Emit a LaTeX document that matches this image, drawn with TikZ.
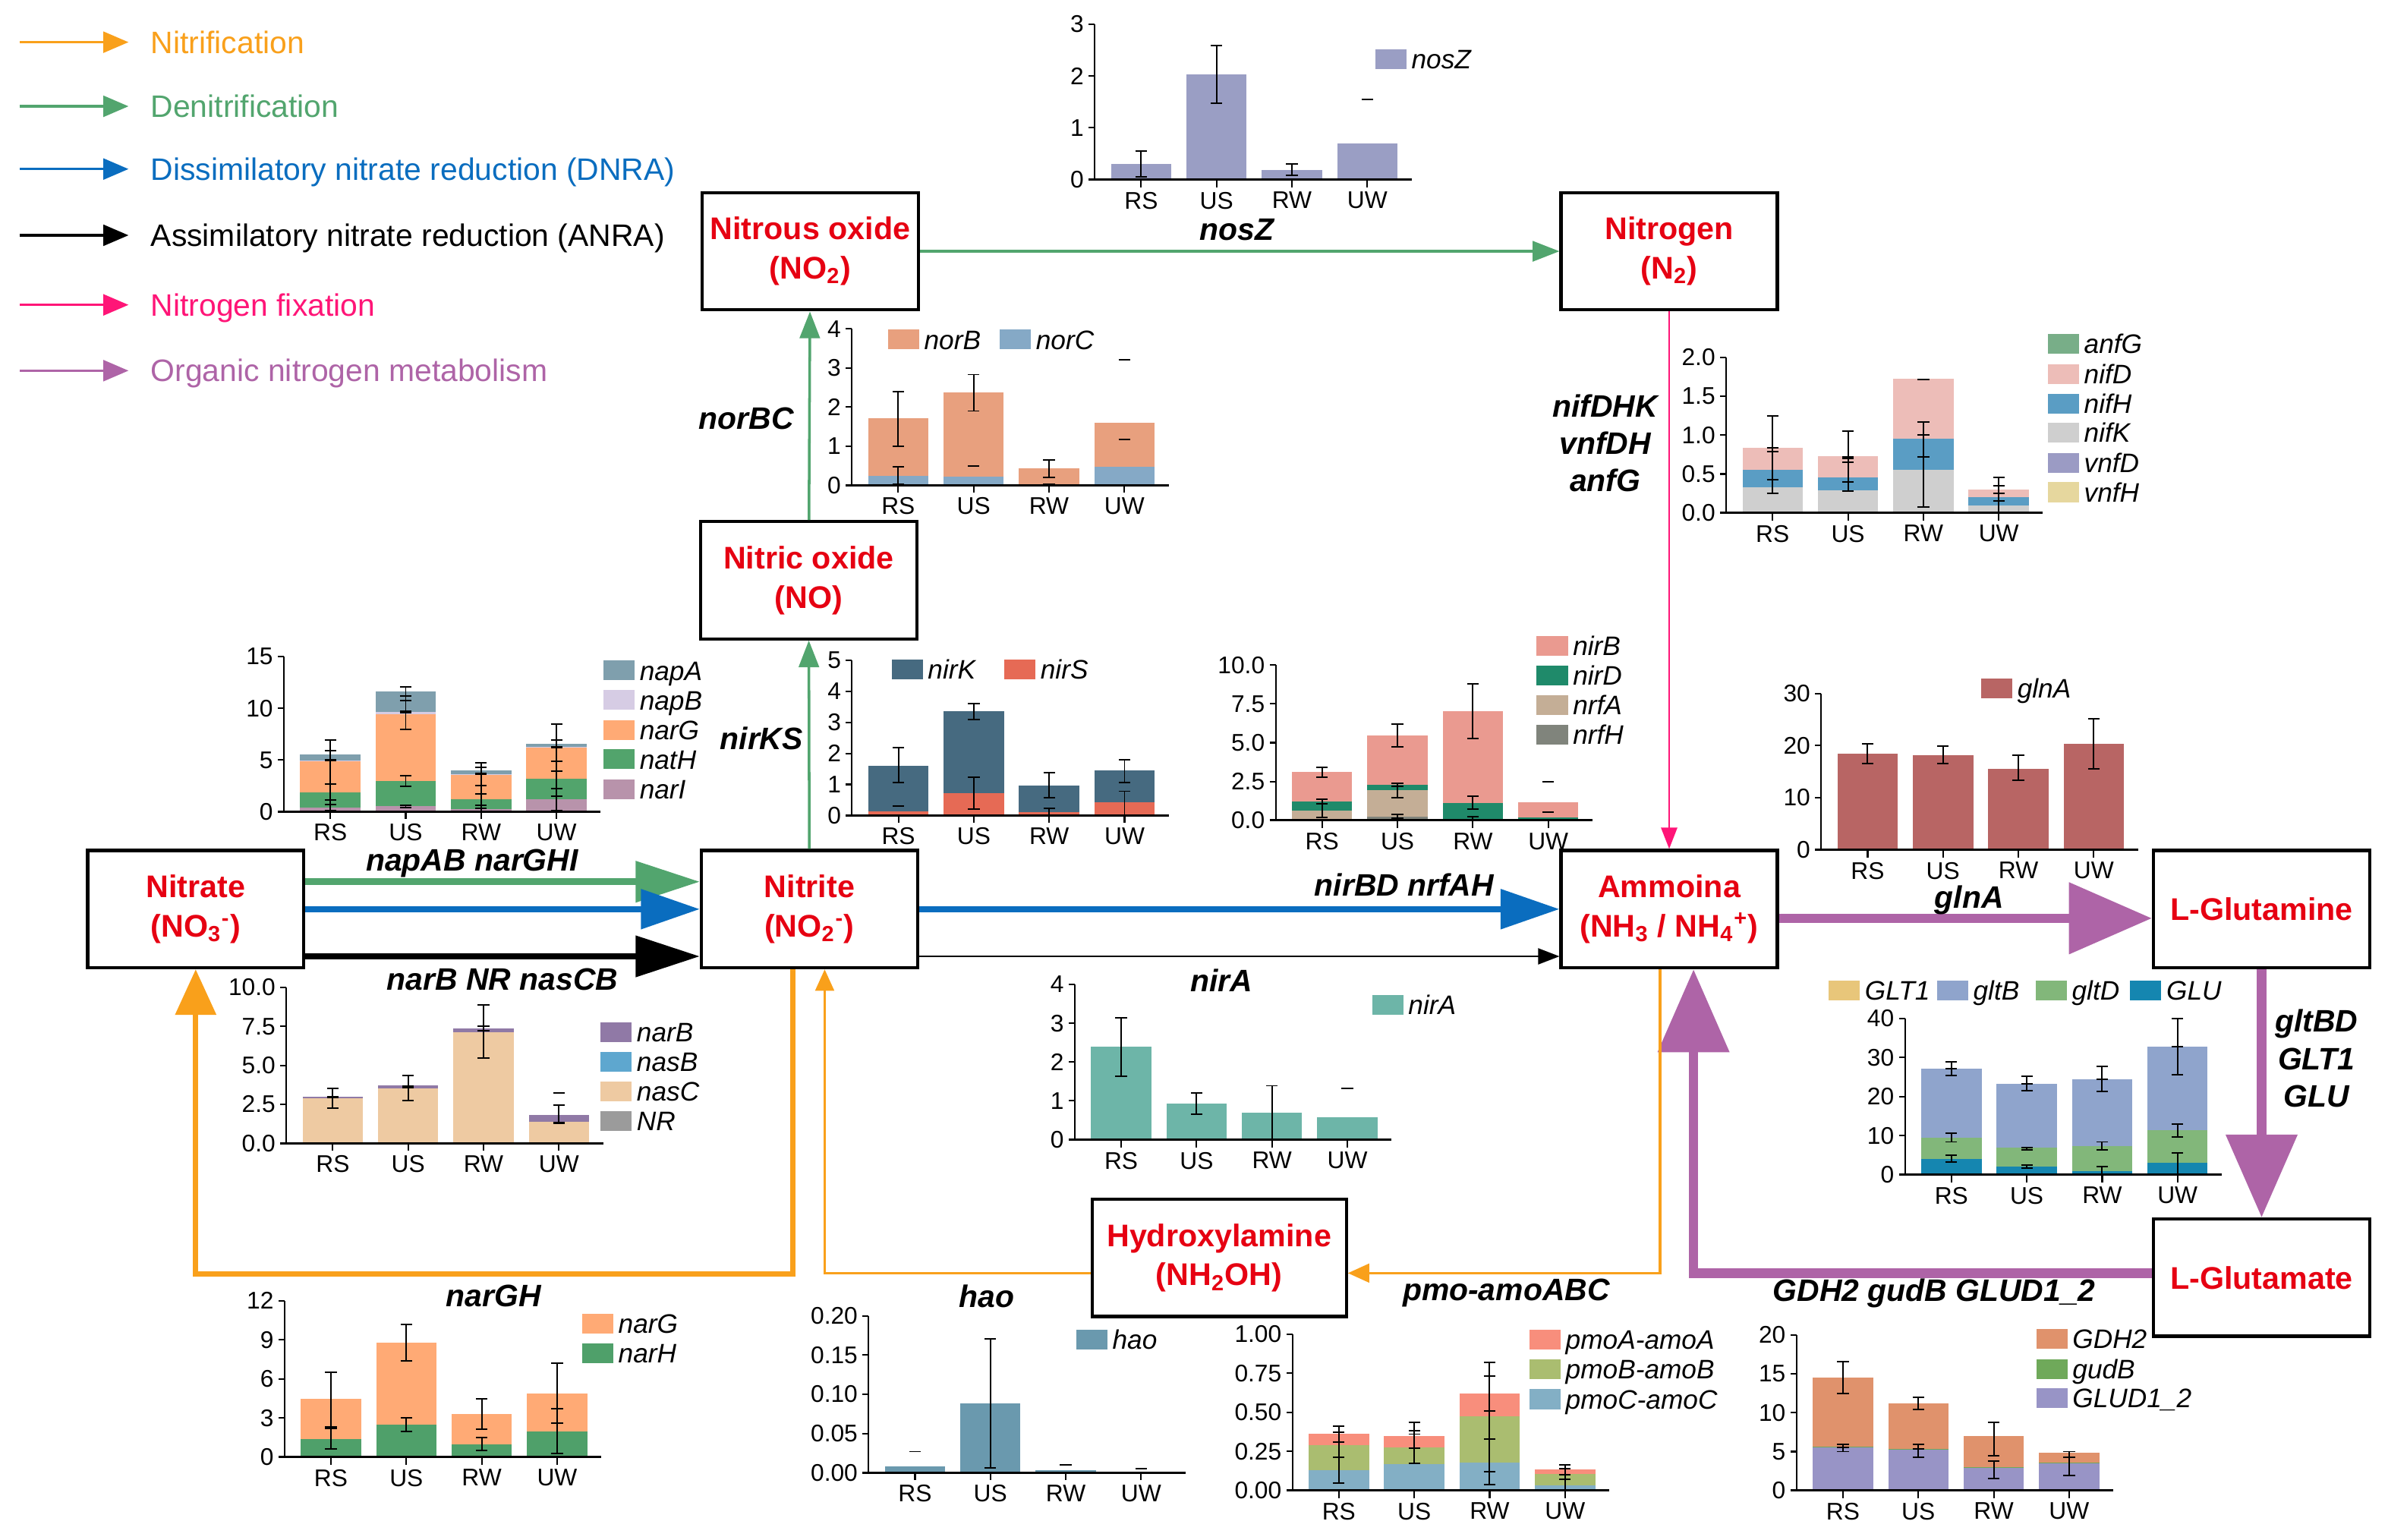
\documentclass[tikz,border=0pt]{standalone}
\usepackage{fontspec}
\setmainfont{Liberation Sans}
\usetikzlibrary{arrows.meta,calc}

% pathway colours
\definecolor{cnitr}{HTML}{F9A01B}
\definecolor{cden}{HTML}{52A56E}
\definecolor{cdnra}{HTML}{0A6DBF}
\definecolor{cfix}{HTML}{FF1577}
\definecolor{corg}{HTML}{AE64A7}
\definecolor{cred}{HTML}{E60012}
% gene colours
\definecolor{cnosz}{HTML}{9A9EC4}
\definecolor{cnorb}{HTML}{E8A07E}
\definecolor{cnorc}{HTML}{85A9C6}
\definecolor{canfg}{HTML}{78AE88}
\definecolor{cnifd}{HTML}{EDBDB8}
\definecolor{cnifh}{HTML}{5A9DC4}
\definecolor{cnifk}{HTML}{CFCFCF}
\definecolor{cvnfd}{HTML}{9B9BC4}
\definecolor{cvnfh}{HTML}{E6D79E}
\definecolor{cnapa}{HTML}{7F9FAD}
\definecolor{cnapb}{HTML}{D6CCE4}
\definecolor{cnarg}{HTML}{FFAA75}
\definecolor{cnath}{HTML}{52A46C}
\definecolor{cnari}{HTML}{B893AB}
\definecolor{cnirk}{HTML}{466A80}
\definecolor{cnirs}{HTML}{E66A55}
\definecolor{cnirb}{HTML}{EA9A90}
\definecolor{cnird}{HTML}{1F8A6A}
\definecolor{cnrfa}{HTML}{C4AE96}
\definecolor{cnrfh}{HTML}{80847C}
\definecolor{cglna}{HTML}{B86564}
\definecolor{cnarb}{HTML}{9079A6}
\definecolor{cnasb}{HTML}{5EA7CF}
\definecolor{cnasc}{HTML}{EECAA2}
\definecolor{cnr}{HTML}{9B9B9B}
\definecolor{cnira}{HTML}{6DB5A8}
\definecolor{cglt}{HTML}{E8C67A}
\definecolor{cgltb}{HTML}{8FA4CC}
\definecolor{cgltd}{HTML}{82B77A}
\definecolor{cglu}{HTML}{1586B0}
\definecolor{cnarh}{HTML}{4FA06A}
\definecolor{chao}{HTML}{6A99AE}
\definecolor{cpmoa}{HTML}{F88E7C}
\definecolor{cpmob}{HTML}{AABD70}
\definecolor{cpmoc}{HTML}{83AFC5}
\definecolor{cgdh}{HTML}{E0926C}
\definecolor{cgudb}{HTML}{6FA95A}
\definecolor{cglud}{HTML}{9894C6}

\newcommand\poolfont{\fontsize{11.7}{14.7}\selectfont\bfseries}
\newcommand\legfont{\fontsize{11.6}{13}\selectfont}
\newcommand\genefont{\fontsize{11.6}{14}\selectfont\bfseries\itshape}
\newcommand\tickfont{\fontsize{9}{10}\selectfont}
\newcommand\keyfont{\fontsize{10}{11}\selectfont\itshape}

\tikzstyle{pool} = [draw, line width=1.2pt, minimum width=2.84cm, minimum height=1.54cm, align=center, text=cred, font=\poolfont, inner sep=2pt]
\tikzstyle{legtext} = [anchor=west, inner sep=0pt, text height=8.3pt, text depth=0pt, font=\legfont]
\tikzstyle{gene} = [inner sep=0pt, align=center, font=\genefont]
\tikzstyle{ticklab} = [inner sep=1.5pt, font=\tickfont]
\tikzstyle{keylab} = [anchor=west, inner sep=0pt, text height=7.2pt, text depth=0pt, font=\keyfont]
\tikzstyle{yaxis} = [line width=0.6pt]
\tikzstyle{xaxis} = [line width=0.9pt]
\tikzstyle{errline} = [line width=0.55pt]
\tikzstyle{legarrow} = [line width=0.95pt, -{Triangle[length=9.4pt,width=7.8pt]}]
\tikzstyle{nitrthin} = [cnitr, line width=0.9pt, -{Triangle[length=8pt,width=7pt]}]
\tikzstyle{nitrthick} = [cnitr, line width=1.9pt, -{Triangle[length=17pt,width=15pt]}]
\tikzstyle{denthin} = [cden, line width=1pt, -{Triangle[length=10pt,width=7.5pt]}]
\tikzstyle{denthick} = [cden, line width=2.4pt, -{Triangle[length=24pt,width=15pt]}]
\tikzstyle{dnra} = [cdnra, line width=2.4pt, -{Triangle[length=22pt,width=14.5pt]}]
\tikzstyle{anrathick} = [black, line width=2.4pt, -{Triangle[length=24pt,width=15pt]}]
\tikzstyle{anrathin} = [black, line width=0.6pt, -{Triangle[length=8pt,width=6pt]}]
\tikzstyle{fix} = [cfix, line width=0.8pt, -{Triangle[length=8pt,width=6pt]}]
\tikzstyle{org} = [corg, line width=3.6pt, -{Triangle[length=31pt,width=26pt]}]

% bar charts: x in picture units from the y axis, heights in data units times \kk
\newcommand\barstack[2]{\gdef\prev{0}%
  \foreach \vt/\col in {#2}{\fill[fill=\col] ({30.5+(#1-1)*49.5-19.8},{-\prev*\kk}) rectangle ({30.5+(#1-1)*49.5+19.8},{-\vt*\kk}); \xdef\prev{\vt}}}
\newcommand\errcaps[2]{\foreach \e in {#2} \draw[errline] ({30.5+(#1-1)*49.5-3.8},{-\e*\kk}) -- ++(7.6,0);}
\newcommand\errbar[3]{\draw[errline] ({30.5+(#1-1)*49.5},{-(#2)*\kk}) -- ({30.5+(#1-1)*49.5},{-(#3)*\kk}); \errcaps{#1}{#2,#3}}
\newcommand\chartaxes[3]{%
  \draw[yaxis] (0,{-(#2)*\kk}) -- (0,0);
  \foreach \v/\l [count=\i] in {#3} \draw[yaxis] (0,{-\v*\kk}) -- (-4,{-\v*\kk}) node[ticklab,left] (#1-y\i) {\l};
  \draw[xaxis] (-4,0) -- (208,0);
  \foreach \cat [count=\i] in {RS,US,RW,UW} \draw[yaxis] ({30.5+(\i-1)*49.5},0) -- ++(0,5) node[ticklab,below] (#1-\cat) {\cat};}
\newcommand\legkey[5]{\fill[fill=#4] (#2,{#3-6.5}) rectangle ({#2+20.5},{#3+6.5}); \node[keylab] (#1) at ({#2+23.5},#3) {#5};}

\begin{document}
\begin{tikzpicture}[x=0.02cm,y=-0.02cm]
\useasboundingbox (0,0) rectangle (1568,1011);

% legend
\foreach \yy/\col/\txt [count=\i] in {27.7/cnitr/Nitrification, 69.8/cden/Denitrification, 111/cdnra/Dissimilatory nitrate reduction (DNRA), 154.5/black/Assimilatory nitrate reduction (ANRA), 200.2/cfix/Nitrogen fixation, 243.4/corg/Organic nitrogen metabolism} {
  \coordinate (ls\i) at (12.9,\yy);
  \node[legtext,text=\col] (leg\i) at (98.7,\yy) {\txt};
  \draw[legarrow,color=\col] (ls\i) -- ++(71.5,0);
}

% pools
\node[pool] (nitrous) at (532,165) {Nitrous oxide\\(NO\textsubscript{2})};
\node[pool] (nitrogen) at (1096,165) {Nitrogen\\(N\textsubscript{2})};
\node[pool] (nitric) at (531,381) {Nitric oxide\\(NO)};
\node[pool] (nitrate) at (128.5,597) {Nitrate\\(NO\textsubscript{3}\textsuperscript{-})};
\node[pool] (nitrite) at (531.5,597) {Nitrite\\(NO\textsubscript{2}\textsuperscript{-})};
\node[pool] (ammonia) at (1096,597) {Ammoina\\(NH\textsubscript{3} / NH\textsubscript{4}\textsuperscript{+})};
\node[pool] (glutamine) at (1485,597) {L-Glutamine};
\node[pool,minimum width=3.34cm] (hydroxyl) at (800.5,826) {Hydroxylamine\\(NH\textsubscript{2}OH)};
\node[pool] (glutamate) at (1485,839) {L-Glutamate};

% connectors
\draw[denthin] (nitrite) -- (nitric);
\draw[denthin] (nitric) -- (nitrous);
\draw[denthin] (nitrous) -- (nitrogen);
\draw[fix] (nitrogen) -- (ammonia);
\draw[denthick] ($(nitrate.east)+(0,-18)$) -- ($(nitrite.west)+(0,-18)$);
\draw[dnra] (nitrate) -- (nitrite);
\draw[anrathick] ($(nitrate.east)+(0,31)$) -- ($(nitrite.west)+(0,31)$);
\draw[dnra] (nitrite) -- (ammonia);
\draw[anrathin] ($(nitrite.east)+(0,31)$) -- ($(ammonia.west)+(0,31)$);
\draw[org] ($(ammonia.east)+(0,6)$) -- ($(glutamine.west)+(0,6)$);
\draw[org] (glutamine) -- (glutamate);
\draw[org] ($(glutamate.west)+(0,-3)$) -| ($(ammonia.south)+(16,0)$);
\draw[nitrthin] ($(ammonia.south)+(-6,0)$) |- ($(hydroxyl.east)+(0,10)$);
\draw[nitrthin] ($(hydroxyl.west)+(0,10)$) -| ($(nitrite.south)+(10,0)$);
\draw[nitrthick] ($(nitrite.south)+(-11,0)$) -- ++(0,200) -| (nitrate.south);

% gene labels
\node[gene] (g-nosz) at (812,151) {nosZ};
\node[gene] (g-norbc) at (490,275) {norBC};
\node[gene] (g-nirks) at (500,485) {nirKS};
\node[gene] (g-nap) at (310,567) {napAB narGHI};
\node[gene] (g-narb) at (330,643) {narB NR nasCB};
\node[gene] (g-nirbd) at (922,581) {nirBD nrfAH};
\node[gene] (g-glna) at (1293,591) {glnA};
\node[gene] (g-nira) at (802,644) {nirA};
\node[gene] (g-nif) at (1054,291) {nifDHK\\vnfDH\\anfG};
\node[gene] (g-glt) at (1521,695) {gltBD\\GLT1\\GLU};
\node[gene] (g-nargh) at (324,851) {narGH};
\node[gene] (g-hao) at (648,851) {hao};
\node[gene] (g-pmo) at (989,849) {pmo-amoABC};
\node[gene] (g-gdh) at (1270,849) {GDH2 gudB GLUD1\_2};

% nosZ
\begin{scope}[shift={(718.8,118)}]
\def\kk{34.07}
\barstack{1}{0.3/cnosz}\barstack{2}{2.03/cnosz}\barstack{3}{0.18/cnosz}\barstack{4}{0.7/cnosz}
\chartaxes{nosz}{3}{0/0,1/1,2/2,3/3}
\errbar{1}{0.05}{0.55}\errbar{2}{1.48}{2.58}\errbar{3}{0.08}{0.3}\errcaps{4}{1.55}
\end{scope}
\legkey{k-nosz}{903}{39}{cnosz}{nosZ}

% norBC
\begin{scope}[shift={(559.3,318.7)}]
\def\kk{25.7}
\barstack{1}{0.25/cnorc,1.72/cnorb}\barstack{2}{0.22/cnorc,2.37/cnorb}
\barstack{3}{0.02/cnorc,0.43/cnorb}\barstack{4}{0.47/cnorc,1.6/cnorb}
\chartaxes{norbc}{4}{0/0,1/1,2/2,3/3,4/4}
\errbar{1}{1.0}{2.4}\errbar{1}{0.02}{0.47}\errbar{2}{1.9}{2.83}\errcaps{2}{0.5}
\errbar{3}{0.2}{0.65}\errcaps{3}{0.03}\errcaps{4}{3.2,1.17}
\end{scope}
\legkey{k-norb}{583}{223}{cnorb}{norB}
\legkey{k-norc}{656.4}{223}{cnorc}{norC}

% nif / vnf / anf
\begin{scope}[shift={(1133.4,336.8)}]
\def\kk{51.1}
\barstack{1}{0.33/cnifk,0.55/cnifh,0.84/cnifd}\barstack{2}{0.29/cnifk,0.46/cnifh,0.73/cnifd}
\barstack{3}{0.55/cnifk,0.95/cnifh,1.72/cnifd}\barstack{4}{0.1/cnifk,0.2/cnifh,0.3/cnifd}
\chartaxes{nif}{2}{0/0.0,0.5/0.5,1/1.0,1.5/1.5,2/2.0}
\errbar{1}{0.25}{1.25}\errcaps{1}{0.43,0.79,0.84}
\errbar{2}{0.28}{1.05}\errcaps{2}{0.4,0.65,0.7,0.72}
\errbar{3}{0.08}{1.17}\errcaps{3}{0.72,1.0,1.71,0.0}
\errbar{4}{0.0}{0.46}\errcaps{4}{0.15,0.25,0.35}
\end{scope}
\foreach \yy/\col/\txt [count=\i] in {225.9/canfg/anfG, 245.5/cnifd/nifD, 265/cnifh/nifH, 284.2/cnifk/nifK, 303.9/cvnfd/vnfD, 323.2/cvnfh/vnfH}
  \legkey{k-nif\i}{1344.6}{\yy}{\col}{\txt};

% napAB narGHI
\begin{scope}[shift={(186.4,533)}]
\def\kk{6.79}
\barstack{1}{0.37/cnari,1.86/cnath,4.9/cnarg,4.95/cnapb,5.5/cnapa}
\barstack{2}{0.51/cnari,3.0/cnath,9.4/cnarg,9.62/cnapb,11.62/cnapa}
\barstack{3}{0.25/cnari,1.22/cnath,3.6/cnarg,3.65/cnapb,4.0/cnapa}
\barstack{4}{1.17/cnari,3.2/cnath,6.17/cnarg,6.25/cnapb,6.53/cnapa}
\chartaxes{nap}{15}{0/0,5/5,10/10,15/15}
\errbar{1}{0.1}{6.92}\errcaps{1}{0.7,1.1,2.7,4.95,5.05,5.9}
\errbar{2}{0.4}{0.6}\errbar{2}{2.47}{3.5}\errbar{2}{7.98}{12.06}\errcaps{2}{9.57,9.7,10.77,11.2}
\errbar{3}{0.05}{4.7}\errcaps{3}{0.3,0.6,1.7,2.5,3.6,3.7,4.3}
\errbar{4}{0.1}{8.5}\errcaps{4}{1.5,2.2,3.9,4.9,6.2,6.3,6.9}
\end{scope}
\foreach \yy/\col/\txt [count=\i] in {440.3/cnapa/napA, 459.7/cnapb/napB, 479.3/cnarg/narG, 498.6/cnath/natH, 518.2/cnari/narI}
  \legkey{k-nap\i}{396.2}{\yy}{\col}{\txt};

% nirKS
\begin{scope}[shift={(559.4,535.5)}]
\def\kk{20.4}
\barstack{1}{0.13/cnirs,1.61/cnirk}\barstack{2}{0.72/cnirs,3.35/cnirk}
\barstack{3}{0.1/cnirs,0.96/cnirk}\barstack{4}{0.42/cnirs,1.44/cnirk}
\chartaxes{nirks}{5}{0/0,1/1,2/2,3/3,4/4,5/5}
\errbar{1}{1.07}{2.19}\errcaps{1}{0.3}
\errbar{2}{3.1}{3.6}\errbar{2}{0.2}{1.23}
\errbar{3}{0.58}{1.37}\errbar{3}{0.0}{0.23}
\errbar{4}{1.07}{1.79}\errbar{4}{0.0}{0.78}
\end{scope}
\legkey{k-nirk}{585.4}{439.5}{cnirk}{nirK}
\legkey{k-nirs}{659.4}{439.5}{cnirs}{nirS}

% nirBD nrfAH
\begin{scope}[shift={(837.6,538.7)}]
\def\kk{10.2}
\barstack{1}{0.02/cnrfh,0.65/cnrfa,1.2/cnird,3.11/cnirb}
\barstack{2}{0.26/cnrfh,1.94/cnrfa,2.28/cnird,5.46/cnirb}
\barstack{3}{0.02/cnrfh,0.1/cnrfa,1.14/cnird,7.05/cnirb}
\barstack{4}{0.2/cnird,1.16/cnirb}
\chartaxes{nirbd}{10}{0/0.0,2.5/2.5,5/5.0,7.5/7.5,10/10.0}
\errbar{1}{2.8}{3.4}\errbar{1}{0.2}{1.38}\errcaps{1}{1.07}
\errbar{2}{4.72}{6.19}\errbar{2}{1.45}{2.39}\errcaps{2}{2.18}\errbar{2}{0.15}{0.39}
\errbar{3}{5.29}{8.81}\errbar{3}{0.72}{1.55}\errbar{3}{0.03}{0.23}
\errcaps{4}{2.48,0.52}
\end{scope}
\foreach \yy/\col/\txt [count=\i] in {424.1/cnirb/nirB, 443.6/cnird/nirD, 463.1/cnrfa/nrfA, 482.5/cnrfh/nrfH}
  \legkey{k-nir\i}{1009}{\yy}{\col}{\txt};

% glnA
\begin{scope}[shift={(1195.8,558)}]
\def\kk{3.42}
\barstack{1}{18.5/cglna}\barstack{2}{18.2/cglna}\barstack{3}{15.6/cglna}\barstack{4}{20.3/cglna}
\chartaxes{glna}{30}{0/0,10/10,20/20,30/30}
\errbar{1}{16.6}{20.4}\errbar{2}{16.6}{19.9}\errbar{3}{13.3}{18.1}\errbar{4}{15.5}{25.1}
\end{scope}
\legkey{k-glna}{1300.8}{452}{cglna}{glnA}

% narB NR nasCB
\begin{scope}[shift={(188,750.7)}]
\def\kk{10.23}
\barstack{1}{2.89/cnasc,3.0/cnarb}\barstack{2}{3.5/cnasc,3.72/cnarb}
\barstack{3}{7.14/cnasc,7.35/cnarb}\barstack{4}{1.38/cnasc,1.82/cnarb}
\chartaxes{narb}{10}{0/0.0,2.5/2.5,5/5.0,7.5/7.5,10/10.0}
\errbar{1}{2.24}{3.54}\errcaps{1}{2.95,3.0}
\errbar{2}{2.73}{4.33}\errcaps{2}{3.55,3.65}
\errbar{3}{5.45}{8.9}\errcaps{3}{7.2,7.5}
\errbar{4}{1.27}{2.43}\errcaps{4}{1.35,3.21}
\end{scope}
\foreach \yy/\col/\txt [count=\i] in {677.6/cnarb/narB, 697.3/cnasb/nasB, 716.8/cnasc/nasC, 736.1/cnr/NR}
  \legkey{k-narb\i}{394.3}{\yy}{\col}{\txt};

% nirA
\begin{scope}[shift={(705.7,748.4)}]
\def\kk{25.5}
\barstack{1}{2.39/cnira}\barstack{2}{0.93/cnira}\barstack{3}{0.69/cnira}\barstack{4}{0.58/cnira}
\chartaxes{nira}{4}{0/0,1/1,2/2,3/3,4/4}
\errbar{1}{1.64}{3.14}\errbar{2}{0.66}{1.2}\errbar{3}{0.02}{1.39}\errcaps{4}{1.32}
\end{scope}
\legkey{k-nira}{900.9}{659.9}{cnira}{nirA}

% gltBD GLT1 GLU
\begin{scope}[shift={(1250.8,771.4)}]
\def\kk{2.565}
\barstack{1}{4.0/cglu,9.48/cgltd,27.1/cgltb}\barstack{2}{2.08/cglu,6.88/cgltd,23.3/cgltb}
\barstack{3}{0.9/cglu,7.27/cgltd,24.5/cgltb}\barstack{4}{2.98/cglu,11.36/cgltd,32.8/cgltb}
\chartaxes{glt}{40}{0/0,10/10,20/20,30/30,40/40}
\errbar{1}{25.4}{28.96}\errcaps{1}{27.1}\errbar{1}{8.4}{10.6}\errbar{1}{3.2}{5.0}
\errbar{2}{21.6}{25.3}\errcaps{2}{23.3}\errbar{2}{6.4}{7.0}\errbar{2}{1.7}{2.4}
\errbar{3}{21.4}{27.7}\errcaps{3}{24.5}\errbar{3}{6.3}{8.4}\errbar{3}{0.0}{2.1}
\errbar{4}{25.6}{39.9}\errcaps{4}{32.8}\errbar{4}{9.7}{13.0}\errbar{4}{0.2}{5.6}
\end{scope}
\foreach \xx/\col/\txt [count=\i] in {1200.7/cglt/GLT1, 1271.8/cgltb/gltB, 1336.6/cgltd/gltD, 1398.7/cglu/GLU}
  \legkey{k-glt\i}{\xx}{650.5}{\col}{\txt};

% narGH
\begin{scope}[shift={(186.8,956.8)}]
\def\kk{8.56}
\barstack{1}{1.36/cnarh,4.45/cnarg}\barstack{2}{2.47/cnarh,8.8/cnarg}
\barstack{3}{0.95/cnarh,3.32/cnarg}\barstack{4}{1.96/cnarh,4.9/cnarg}
\chartaxes{nargh}{12}{0/0,3/3,6/6,9/9,12/12}
\errbar{1}{0.64}{6.5}\errcaps{1}{2.2,2.3}
\errbar{2}{7.4}{10.2}\errbar{2}{1.96}{3.03}
\errbar{3}{2.16}{4.49}\errbar{3}{0.5}{1.5}
\errbar{4}{0.3}{7.2}\errcaps{4}{2.6,3.7}
\end{scope}
\legkey{k-narg}{382.2}{869.2}{cnarg}{narG}
\legkey{k-narh}{382.2}{888.8}{cnarh}{narH}

% hao
\begin{scope}[shift={(570.3,967.1)}]
\def\kk{515}
\barstack{1}{0.0081/chao}\barstack{2}{0.0887/chao}\barstack{3}{0.003/chao}\barstack{4}{0.0005/chao}
\chartaxes{hao}{0.2}{0/0.00,0.05/0.05,0.1/0.10,0.15/0.15,0.2/0.20}
\errcaps{1}{0.027}\errbar{2}{0.0065}{0.171}\errcaps{3}{0.0097}\errcaps{4}{0.005}
\end{scope}
\legkey{k-hao}{706.6}{879.6}{chao}{hao}

% pmo-amoABC
\begin{scope}[shift={(848.6,978.7)}]
\def\kk{102.7}
\barstack{1}{0.129/cpmoc,0.29/cpmob,0.36/cpmoa}\barstack{2}{0.17/cpmoc,0.275/cpmob,0.35/cpmoa}
\barstack{3}{0.18/cpmoc,0.476/cpmob,0.62/cpmoa}\barstack{4}{0.032/cpmoc,0.105/cpmob,0.133/cpmoa}
\chartaxes{pmo}{1}{0/0.00,0.25/0.25,0.5/0.50,0.75/0.75,1/1.00}
\errbar{1}{0.049}{0.41}\errcaps{1}{0.21,0.31,0.37}
\errbar{2}{0.173}{0.434}\errcaps{2}{0.27,0.36,0.38}
\errbar{3}{0.037}{0.82}\errcaps{3}{0.12,0.33,0.51,0.73}
\errbar{4}{0.0}{0.165}\errcaps{4}{0.07,0.1,0.14}
\end{scope}
\foreach \yy/\col/\txt [count=\i] in {879.6/cpmoa/pmoA-amoA, 899.1/cpmob/pmoB-amoB, 918.8/cpmoc/pmoC-amoC}
  \legkey{k-pmo\i}{1004.2}{\yy}{\col}{\txt};

% GDH2 gudB GLUD1_2
\begin{scope}[shift={(1179.6,978.7)}]
\def\kk{5.1}
\barstack{1}{5.5/cglud,5.65/cgudb,14.5/cgdh}\barstack{2}{5.2/cglud,5.3/cgudb,11.2/cgdh}
\barstack{3}{2.9/cglud,3.0/cgudb,7.0/cgdh}\barstack{4}{3.5/cglud,3.6/cgudb,4.9/cgdh}
\chartaxes{gdh}{20}{0/0,5/5,10/10,15/15,20/20}
\errbar{1}{12.5}{16.6}\errbar{1}{5.0}{5.9}\errcaps{1}{5.5}
\errbar{2}{10.4}{12.0}\errbar{2}{4.3}{5.9}\errcaps{2}{5.3}
\errbar{3}{4.5}{8.8}\errbar{3}{1.5}{3.8}
\errbar{4}{4.3}{5.0}\errbar{4}{1.9}{4.3}
\end{scope}
\foreach \yy/\col/\txt [count=\i] in {879/cgdh/GDH2, 899/cgudb/gudB, 918/cglud/GLUD1\_2}
  \legkey{k-gdh\i}{1337}{\yy}{\col}{\txt};

\end{tikzpicture}
\end{document}
